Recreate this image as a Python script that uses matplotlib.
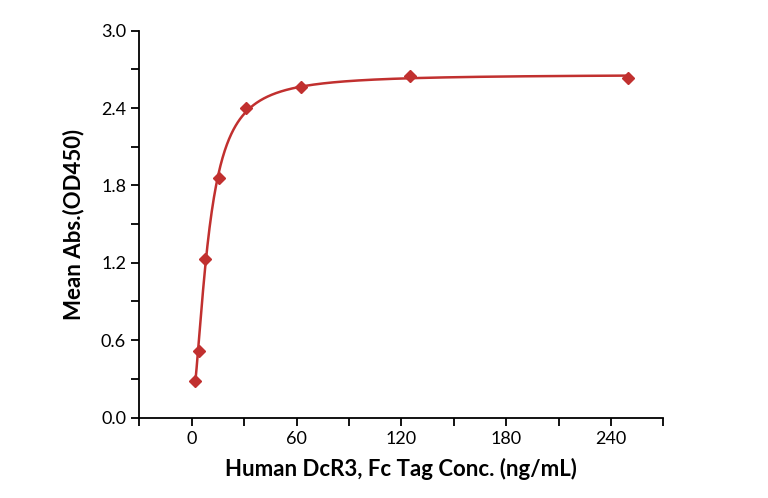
import numpy as np
import matplotlib.pyplot as plt
from matplotlib.ticker import MultipleLocator

# data
conc = [1.95, 3.9, 7.8, 15.6, 31.25, 62.5, 125, 250]
od450 = [0.28, 0.52, 1.23, 1.855, 2.40, 2.566, 2.648, 2.63]

x_label = "Human DcR3, Fc Tag Conc. (ng/mL)"
y_label = "Mean Abs.(OD450)"
red = "#C1302F"

# 4PL fit: grid over slope / EC50, bottom+top by linear least squares
x = np.array(conc)
y = np.array(od450)
best = None
for b in np.linspace(0.8, 3.0, 111):
	for c in np.linspace(3, 20, 171):
		g = 1.0 / (1.0 + (x / c) ** b)
		A = np.column_stack([g, 1 - g])
		coef, res, _, _ = np.linalg.lstsq(A, y, rcond=None)
		err = np.sum((A @ coef - y) ** 2)
		if best is None or err < best[0]:
			best = (err, b, c, coef)
_, b, c, (bottom, top) = best

xf = np.linspace(x.min(), x.max(), 600)
gf = 1.0 / (1.0 + (xf / c) ** b)
yf = bottom * gf + top * (1 - gf)

plt.rcParams['font.family'] = ['Lato', 'DejaVu Sans']

fig = plt.figure(figsize=(7.68, 4.98), dpi=100)
ax = fig.add_axes([0.1814, 0.1615, 0.6823, 0.777])

ax.plot(xf, yf, '-', color=red, lw=1.8)
ax.plot(conc, od450, 'D', color=red, ms=6.5)

ax.set_xlim(-30, 270)
ax.set_ylim(0, 3.0)
ax.xaxis.set_major_locator(MultipleLocator(60))
ax.xaxis.set_minor_locator(MultipleLocator(30))
ax.yaxis.set_major_locator(MultipleLocator(0.6))
ax.yaxis.set_minor_locator(MultipleLocator(0.3))
ax.yaxis.set_major_formatter(plt.FormatStrFormatter('%.1f'))

for s in ['top', 'right']:
	ax.spines[s].set_visible(False)
for s in ['left', 'bottom']:
	ax.spines[s].set_linewidth(1.3)
ax.tick_params(which='both', direction='out', width=1.3, length=6, labelsize=13)

ax.set_xlabel(x_label, fontsize=16, fontweight='bold', labelpad=8)
ax.set_ylabel(y_label, fontsize=16, fontweight='bold', labelpad=12)

fig.savefig("out.png", dpi=100)
